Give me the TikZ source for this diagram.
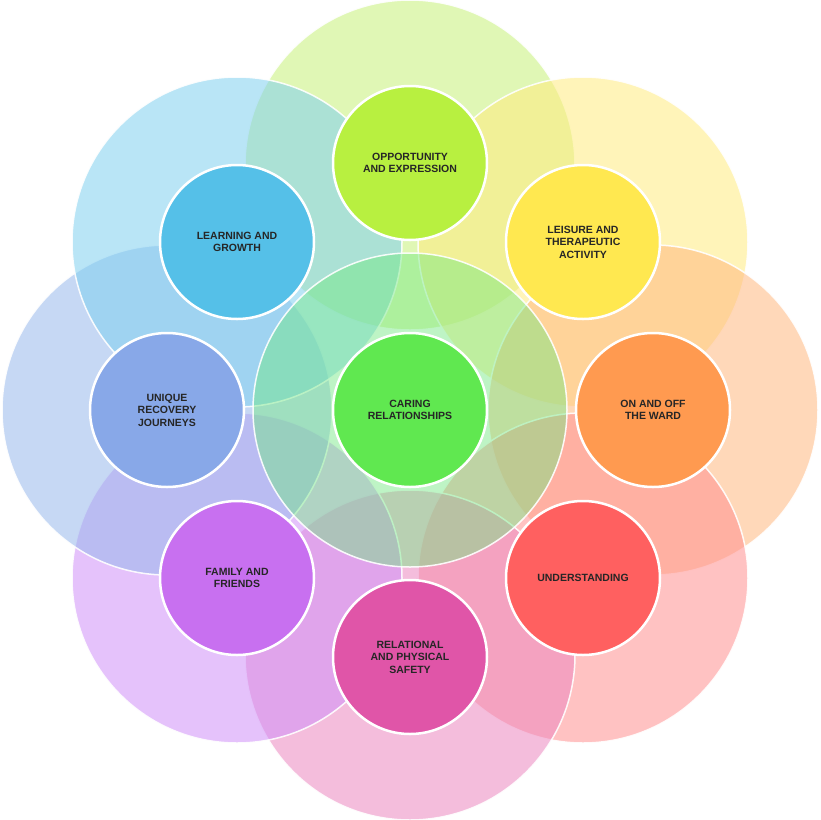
\documentclass[tikz,border=0pt]{standalone}
\usepackage{fontspec}
\setmainfont{Liberation Sans}
\begin{document}
\begin{tikzpicture}[x=1pt,y=-1pt,
  big/.style={circle,minimum size=330pt,inner sep=0pt,fill opacity=0.55,draw=white,line width=1.5pt,draw opacity=0.9},
  small/.style={circle,minimum size=154pt,inner sep=0pt,draw=white,line width=2.5pt,font=\bfseries\fontsize{10.5}{12.5}\selectfont,text=black!85,align=center}]
\useasboundingbox (0,0) rectangle (820,820);
\fill[white] (0,0) rectangle (820,820);
\definecolor{cA}{HTML}{C8F27A}\definecolor{cB}{HTML}{FFEC80}\definecolor{cC}{HTML}{FFB880}
\definecolor{cD}{HTML}{FF9090}\definecolor{cE}{HTML}{EC88C0}\definecolor{cF}{HTML}{D090F8}
\definecolor{cG}{HTML}{98B8EC}\definecolor{cH}{HTML}{80D0F0}\definecolor{cI}{HTML}{70E880}
\node[big,fill=cA] (bA) at (410,165) {};
\node[big,fill=cB] (bB) at (583,242) {};
\node[big,fill=cC] (bC) at (653,410) {};
\node[big,fill=cD] (bD) at (583,578) {};
\node[big,fill=cE] (bE) at (410,655) {};
\node[big,fill=cF] (bF) at (237,578) {};
\node[big,fill=cG] (bG) at (167,410) {};
\node[big,fill=cH] (bH) at (237,242) {};
\node[big,fill=cI,minimum size=314pt,fill opacity=0.45] (bI) at (410,410) {};
\node[small,fill={rgb,255:red,184;green,240;blue,64}] (sA) at (410,163) {OPPORTUNITY\\AND EXPRESSION};
\node[small,fill={rgb,255:red,255;green,232;blue,80}] (sB) at (583,242) {LEISURE AND\\THERAPEUTIC\\ACTIVITY};
\node[small,fill={rgb,255:red,255;green,154;blue,80}] (sC) at (653,410) {ON AND OFF\\THE WARD};
\node[small,fill={rgb,255:red,255;green,96;blue,96}] (sD) at (583,578) {UNDERSTANDING};
\node[small,fill={rgb,255:red,224;green,85;blue,168}] (sE) at (410,657) {RELATIONAL\\AND PHYSICAL\\SAFETY};
\node[small,fill={rgb,255:red,200;green,112;blue,240}] (sF) at (237,578) {FAMILY AND\\FRIENDS};
\node[small,fill={rgb,255:red,136;green,168;blue,232}] (sG) at (167,410) {UNIQUE\\RECOVERY\\JOURNEYS};
\node[small,fill={rgb,255:red,85;green,192;blue,232}] (sH) at (237,242) {LEARNING AND\\GROWTH};
\node[small,fill={rgb,255:red,96;green,232;blue,80}] (sI) at (410,410) {CARING\\RELATIONSHIPS};
\end{tikzpicture}
\end{document}
